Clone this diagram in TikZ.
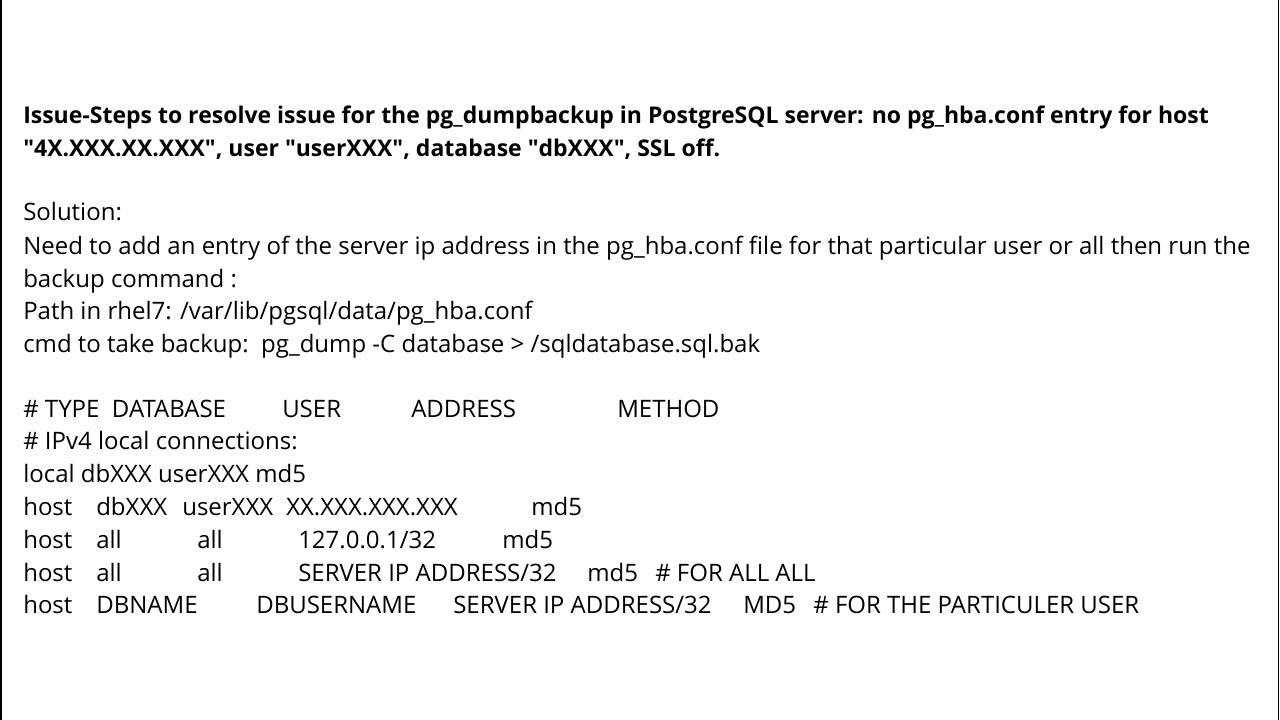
\documentclass[tikz,border=0pt]{standalone}
\usepackage{fontspec}
\setmainfont{Open Sans}
\begin{document}
\begin{tikzpicture}[x=0.75pt,y=-0.75pt,
  t/.style={anchor=base west,inner sep=0pt,font=\fontsize{18}{20}\selectfont},
  b/.style={t,font=\fontsize{17.25}{20}\selectfont\bfseries}]
\def\q{\textquotedbl}
\useasboundingbox (0,0) rectangle (1280,720);
\fill[white] (0,0) rectangle (1280,720);
\draw[line width=0.8pt] (1,0) -- (1,720) (1278.5,0) -- (1278.5,720);
\node[b] (h1) at (23,124) {Issue-Steps to resolve issue for the pg\_dumpbackup in PostgreSQL server: no pg\_hba.conf entry for host};
\node[b] (h2) at (23,157) {\q4X.XXX.XX.XXX\q, user \q userXXX\q, database \q dbXXX\q, SSL off.};
\node[t] (s) at (23,221) {Solution:};
\node[t] (l1) at (23,254) {Need to add an entry of the server ip address in the pg\_hba.conf file for that particular user or all then run the};
\node[t] (l2) at (23,287) {backup command :};
\node[t] (l3) at (23,319) {Path in rhel7: /var/lib/pgsql/data/pg\_hba.conf};
\node[t] (l4) at (23,352) {cmd to take backup:\ \ pg\_dump -C database > /sqldatabase.sql.bak};
\node[t] (c1) at (23,417) {\# TYPE\ \ DATABASE};
\node[t] (c2) at (282,417) {USER};
\node[t] (c3) at (411,417) {ADDRESS};
\node[t] (c4) at (617,417) {METHOD};
\node[t] (ip) at (23,449) {\# IPv4 local connections:};
\node[t] (lo) at (23,482) {local dbXXX userXXX md5};
\node[t] (a1) at (23,515) {host};
\node[t] (a2) at (96,515) {dbXXX};
\node[t] (a3) at (182,515) {userXXX};
\node[t] (a4) at (286,515) {XX.XXX.XXX.XXX};
\node[t] (a5) at (531,515) {md5};
\node[t] (b1) at (23,548) {host};
\node[t] (b2) at (96,548) {all};
\node[t] (b3) at (197,548) {all};
\node[t] (b4) at (298,548) {127.0.0.1/32};
\node[t] (b5) at (502,548) {md5};
\node[t] (d1) at (23,581) {host};
\node[t] (d2) at (96,581) {all};
\node[t] (d3) at (197,581) {all};
\node[t] (d4) at (298,581) {SERVER IP ADDRESS/32};
\node[t] (d5) at (587,581) {md5};
\node[t] (d6) at (655,581) {\# FOR ALL ALL};
\node[t] (e1) at (23,613) {host};
\node[t] (e2) at (96,613) {DBNAME};
\node[t] (e3) at (256,613) {DBUSERNAME};
\node[t] (e4) at (453,613) {SERVER IP ADDRESS/32};
\node[t] (e5) at (743,613) {MD5};
\node[t] (e6) at (813,613) {\# FOR THE PARTICULER USER};
\end{tikzpicture}
\end{document}
